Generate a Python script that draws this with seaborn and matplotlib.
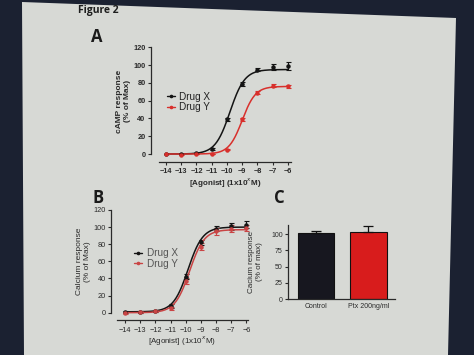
"""
Figure 2 recreation: cAMP / calcium dose-response curves and Ptx bar chart,
shown as a photo of a screen.
"""
import numpy as np
import pandas as pd
import matplotlib
matplotlib.use('Agg')
import matplotlib.pyplot as plt
from matplotlib.patches import Polygon
from matplotlib.lines import Line2D
import seaborn as sns

sns.set_style('ticks')
plt.rcParams['font.family'] = ['Liberation Sans', 'DejaVu Sans']

# ── Data ─────────────────────────────────────────────────────────────────────
log_conc = [-14, -13, -12, -11, -10, -9, -8, -7, -6]

# Panel A – cAMP response (% of Max)
a_x_mean = [0, 0, 1, 6, 39, 79, 95, 98, 99]
a_x_sem  = [0.5, 0.5, 0.5, 1, 2, 2, 2, 3, 4]
a_y_mean = [0, -1, 0, 0, 5, 39, 69, 77, 76]
a_y_sem  = [0.5, 0.5, 0.5, 0.5, 1, 2, 2, 2, 2]

# Panel B – calcium response (% of Max)
b_x_mean = [1, 1, 2, 8, 42, 82, 98, 101, 103]
b_x_sem  = [1, 1, 1, 2, 3, 3, 3, 4, 4]
b_y_mean = [0, 1, 2, 5, 37, 77, 95, 98, 99]
b_y_sem  = [1, 1, 1, 2, 4, 4, 4, 4, 4]

# Four-parameter logistic fits as drawn (bottom, top, logEC50, hill)
a_x_fit = (0, 95, -9.8, 0.9)
a_y_fit = (0, 76, -9.0, 1.0)
b_x_fit = (1, 100, -9.85, 0.9)
b_y_fit = (0, 97, -9.75, 0.9)

# Panel C – calcium response bars
c_groups = ['Control', 'Ptx 200ng/ml']
c_mean   = [102, 103]
c_sem    = [3, 9]

BLACK = '#141414'
RED   = '#d8302c'
RED_B = '#c94545'
TEXT  = '#2a2a2a'


def logistic(params, x):
    bottom, top, ec50, hill = params
    return bottom + (top - bottom) / (1 + 10 ** ((ec50 - x) * hill))


def dose_panel(ax, series, ylabel, bold, xlim, offsets):
    grid = np.linspace(-14, -6, 200)
    for mean, sem, fit, color in series:
        curve = pd.DataFrame({'x': grid, 'y': logistic(fit, grid)})
        sns.lineplot(data=curve, x='x', y='y', color=color, lw=1.1, ax=ax)
        ax.errorbar(log_conc, mean, yerr=sem, fmt='o', ms=2.2, color=color,
                    elinewidth=0.8, capsize=1.8, capthick=0.8, clip_on=False)
    sns.despine(ax=ax)
    # spine offsets first: moving a spine resets the tick objects
    ax.spines['left'].set_position(('outward', offsets[0]))
    ax.spines['bottom'].set_position(('outward', offsets[1]))
    weight = 'bold' if bold else 'normal'
    ax.set_xlim(*xlim)
    ax.set_ylim(-2, 121)
    ax.set_xticks(log_conc)
    ax.set_yticks(range(0, 121, 20))
    ax.tick_params(length=2.2, width=0.8, pad=1.5, colors=TEXT, labelsize=5.3)
    ax.tick_params(axis='x', pad=2.6)
    for lab in ax.get_xticklabels() + ax.get_yticklabels():
        lab.set_fontweight(weight)
    ax.set_xlabel('[Agonist] (1x10$^{x}$M)', fontsize=5.8, weight=weight,
                  color=TEXT, labelpad=0.5)
    ax.set_ylabel(ylabel, fontsize=6.0, weight=weight, color=TEXT, labelpad=1.5)
    ax.spines['left'].set_bounds(0, 120)
    for s in ('left', 'bottom'):
        ax.spines[s].set_linewidth(0.9)
        ax.spines[s].set_color(TEXT)
    ax.patch.set_alpha(0)


fig = plt.figure(figsize=(4.74, 3.55), dpi=100, facecolor='#1b2131')

# screen area of the photographed monitor
screen = Polygon([(22 / 474, 1 - 2 / 355), (456 / 474, 1 - 18 / 355),
                  (448 / 474, 0), (24 / 474, 0)],
                 closed=True, transform=fig.transFigure,
                 facecolor='#d7d9d5', edgecolor='none', zorder=-5)
fig.patches.append(screen)

# ── A ──────────────────────────────────────────────────────────────────────
ax_a = fig.add_axes([0.3354, 0.5611, 0.2778, 0.3082])
dose_panel(ax_a, [(a_x_mean, a_x_sem, a_x_fit, BLACK),
                  (a_y_mean, a_y_sem, a_y_fit, RED)],
           'cAMP response\n(% of Max)', True, (-14.46, -5.82), (6, 4.2))

# ── B ──────────────────────────────────────────────────────────────────────
ax_b = fig.add_axes([0.2462, 0.1144, 0.2770, 0.2966])
dose_panel(ax_b, [(b_x_mean, b_x_sem, b_x_fit, BLACK),
                  (b_y_mean, b_y_sem, b_y_fit, RED_B)],
           'Calcium response\n(% of Max)', False, (-14.55, -5.9), (4.1, 4))

# legends
for colors, tcolor, anchor in [
    ((BLACK, RED), '#222222', (0.352, 0.741)),
    ((BLACK, RED_B), '#555555', (0.283, 0.301)),
]:
    handles = [Line2D([], [], color=c, lw=1.0, marker='o', ms=1.6) for c in colors]
    fig.legend(handles, ['Drug X', 'Drug Y'], loc='upper left',
               bbox_to_anchor=anchor, frameon=False, fontsize=7.2,
               labelcolor=tcolor, handlelength=0.8, handletextpad=0.45,
               labelspacing=0.05, borderpad=0, borderaxespad=0)

# ── C ──────────────────────────────────────────────────────────────────────
ax_c = fig.add_axes([0.6076, 0.1577, 0.2257, 0.2085])
bars = pd.DataFrame({'group': c_groups, 'value': c_mean})
sns.barplot(data=bars, x='group', y='value', hue='group',
            palette=['#17171f', '#d81c1c'], saturation=1, width=0.695,
            errorbar=None, edgecolor='#111111', linewidth=0.8, legend=False,
            ax=ax_c)
ax_c.errorbar(range(len(c_groups)), c_mean, yerr=[[0, 0], c_sem], fmt='none',
              ecolor='#111111', elinewidth=0.9, capsize=3.5, capthick=0.9)
sns.despine(ax=ax_c)
ax_c.set_xlim(-0.533, 1.505)
ax_c.set_ylim(0, 114)
ax_c.set_yticks([0, 25, 50, 75, 100])
ax_c.tick_params(axis='y', length=2.2, width=0.8, pad=1.5, colors=TEXT,
                 labelsize=5.0)
ax_c.tick_params(axis='x', length=0, pad=3, colors=TEXT, labelsize=5.0)
ax_c.set_xlabel('')
ax_c.set_ylabel('Cacium response\n(% of max)', fontsize=5.8, color=TEXT,
                labelpad=6)
for s in ('left', 'bottom'):
    ax_c.spines[s].set_linewidth(0.9)
    ax_c.spines[s].set_color(TEXT)
ax_c.patch.set_alpha(0)

# ── Figure text ────────────────────────────────────────────────────────────
fig.text(78 / 474, 1 - 10 / 355, 'Figure 2', fontsize=7.5, weight='bold',
         family=['Open Sans', 'DejaVu Sans'], color='#1e1e1e', va='center')
for label, x, y in [('A', 97, 37), ('B', 98, 198), ('C', 279, 198)]:
    fig.text(x / 474, 1 - y / 355, label, fontsize=12, weight='bold',
             family=['Open Sans', 'DejaVu Sans'], color='#1a1a1a',
             ha='center', va='center')

fig.savefig('out.png', dpi=100, facecolor=fig.get_facecolor())
plt.close(fig)
